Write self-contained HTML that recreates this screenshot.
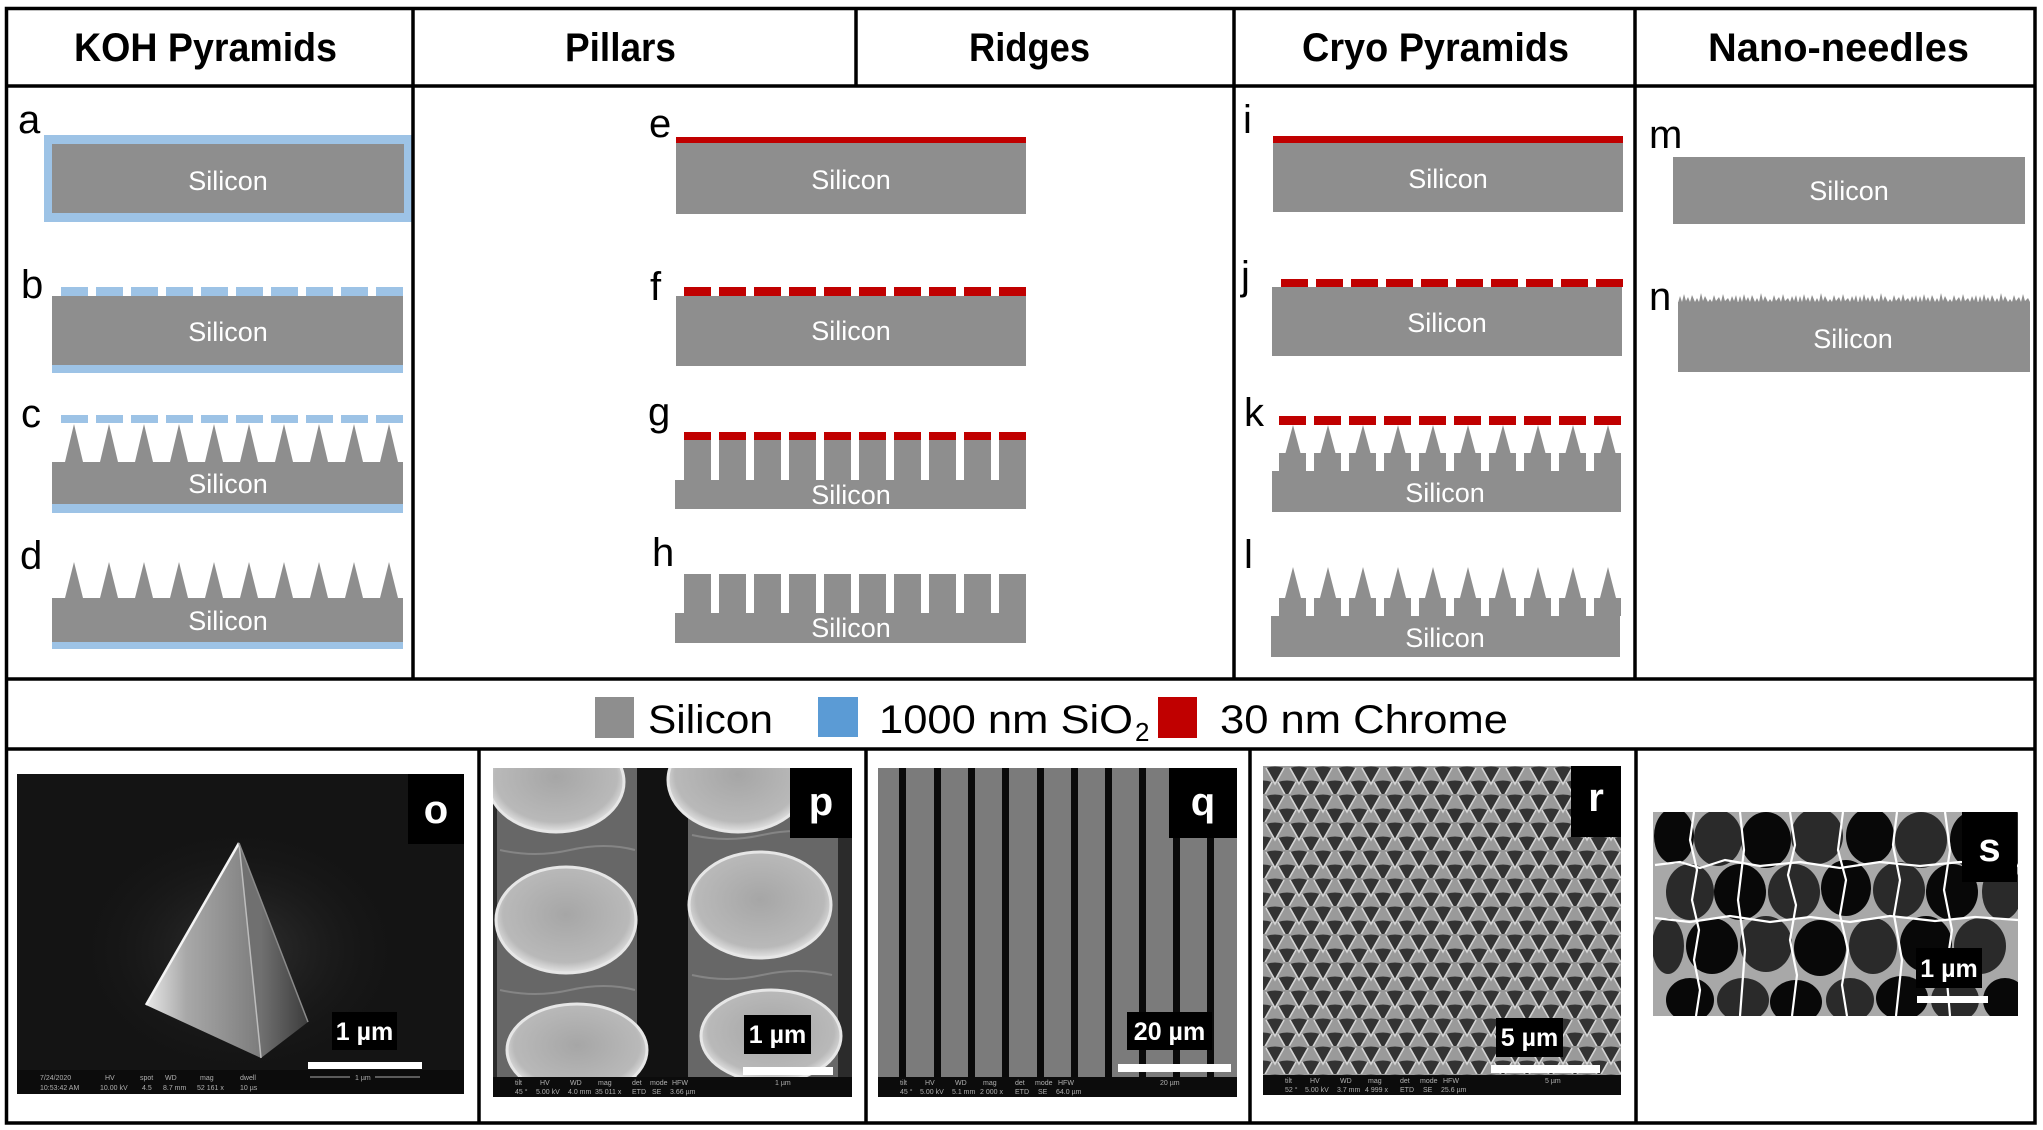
<!DOCTYPE html>
<html><head><meta charset="utf-8">
<style>
html,body{margin:0;padding:0;background:#fff;}
svg{display:block;}
text{font-family:"Liberation Sans",Arial,sans-serif;}
</style></head><body>
<svg width="2043" height="1130" viewBox="0 0 2043 1130" xmlns="http://www.w3.org/2000/svg">
<defs>
 <pattern id="pBlue" x="61" y="0" width="35" height="1200" patternUnits="userSpaceOnUse"><rect width="27" height="1200" fill="#9DC3E6"/></pattern>
 <pattern id="pRedF" x="684" y="0" width="35" height="1200" patternUnits="userSpaceOnUse"><rect width="27" height="1200" fill="#C00000"/></pattern>
 <pattern id="pGrayF" x="684" y="0" width="35" height="1200" patternUnits="userSpaceOnUse"><rect width="27" height="1200" fill="#8E8E8E"/></pattern>
 <pattern id="pRedJ" x="1281" y="0" width="35" height="1200" patternUnits="userSpaceOnUse"><rect width="27" height="1200" fill="#C00000"/></pattern>
 <pattern id="pRedK" x="1279" y="0" width="35" height="1200" patternUnits="userSpaceOnUse"><rect width="27" height="1200" fill="#C00000"/></pattern>
 <pattern id="pGrayK" x="1279" y="0" width="35" height="1200" patternUnits="userSpaceOnUse"><rect width="27" height="1200" fill="#8E8E8E"/></pattern>
 <pattern id="pj" x="1678" y="293" width="60" height="10" patternUnits="userSpaceOnUse"><polygon points="0,10 2,3 4,9 6,1 8,8 10,4 12,9 14,2 17,9 19,5 21,9 23,0 25,8 27,3 30,9 32,6 34,9 36,2 38,8 41,4 43,9 45,1 47,8 50,5 52,9 54,3 56,8 58,2 60,10" fill="#8E8E8E"/></pattern>
 <pattern id="pr" x="1263" y="766" width="24" height="28" patternUnits="userSpaceOnUse">
  <rect width="24" height="28" fill="#9a9a9a"/>
  <path d="M3 2 Q12 -1 21 2 L12 18 Z" fill="#333"/>
  <path d="M-9 16 Q0 13 9 16 L0 32 Z" fill="#333"/>
  <path d="M15 16 Q24 13 33 16 L24 32 Z" fill="#333"/>
  <path d="M3 2 L12 18 L21 2" fill="none" stroke="#d4d4d4" stroke-width="1.6"/>
  <path d="M-9 16 L0 32 L9 16 M15 16 L24 32 L33 16" fill="none" stroke="#d4d4d4" stroke-width="1.6"/>
 </pattern>
 <linearGradient id="gl" x1="146" y1="0" x2="261" y2="0" gradientUnits="userSpaceOnUse"><stop offset="0" stop-color="#e8e8e8"/><stop offset="0.35" stop-color="#a8a8a8"/><stop offset="1" stop-color="#7c7c7c"/></linearGradient>
 <linearGradient id="gr" x1="261" y1="0" x2="308" y2="0" gradientUnits="userSpaceOnUse"><stop offset="0" stop-color="#707070"/><stop offset="1" stop-color="#3c3c3c"/></linearGradient>
 <radialGradient id="gglow" cx="50%" cy="50%" r="50%"><stop offset="0" stop-color="#333"/><stop offset="1" stop-color="#141414" stop-opacity="0"/></radialGradient>
 <radialGradient id="gc" cx="50%" cy="45%" r="55%"><stop offset="0" stop-color="#a6a6a6"/><stop offset="0.82" stop-color="#b9b9b9"/><stop offset="1" stop-color="#e4e4e4"/></radialGradient>
 <clipPath id="cp"><rect x="493" y="768" width="359" height="309"/></clipPath>
 <clipPath id="cs"><rect x="1653" y="812" width="365" height="204"/></clipPath>
</defs>

<!-- header text -->
<g font-weight="bold" font-size="40" fill="#000">
 <text x="74" y="61" textLength="263" lengthAdjust="spacingAndGlyphs">KOH Pyramids</text>
 <text x="565" y="61" textLength="111" lengthAdjust="spacingAndGlyphs">Pillars</text>
 <text x="969" y="61" textLength="121" lengthAdjust="spacingAndGlyphs">Ridges</text>
 <text x="1302" y="61" textLength="267" lengthAdjust="spacingAndGlyphs">Cryo Pyramids</text>
 <text x="1708" y="61" textLength="261" lengthAdjust="spacingAndGlyphs">Nano-needles</text>
</g>

<!-- panel labels -->
<g font-size="40" fill="#000">
 <text x="18" y="133">a</text>
 <text x="21" y="298">b</text>
 <text x="21" y="427">c</text>
 <text x="20" y="569">d</text>
 <text x="649" y="137">e</text>
 <text x="650" y="300">f</text>
 <text x="648" y="425">g</text>
 <text x="652" y="566">h</text>
 <text x="1243" y="133">i</text>
 <text x="1241" y="289">j</text>
 <text x="1244" y="426">k</text>
 <text x="1244" y="568">l</text>
 <text x="1649" y="148">m</text>
 <text x="1649" y="310">n</text>
</g>

<!-- KOH column -->
<rect x="44" y="135" width="368" height="87" fill="#9DC3E6"/>
<rect x="52" y="144" width="352" height="69" fill="#8E8E8E"/>

<rect x="61" y="287" width="342" height="9" fill="url(#pBlue)"/>
<rect x="52" y="296" width="351" height="69" fill="#8E8E8E"/>
<rect x="52" y="365" width="351" height="8" fill="#9DC3E6"/>

<rect x="61" y="415" width="342" height="8" fill="url(#pBlue)"/>
<path fill="#8E8E8E" d="M65 462l9-38 9 38z m35 0l9-38 9 38z m35 0l9-38 9 38z m35 0l9-38 9 38z m35 0l9-38 9 38z m35 0l9-38 9 38z m35 0l9-38 9 38z m35 0l9-38 9 38z m35 0l9-38 9 38z m35 0l9-38 9 38z"/>
<rect x="52" y="462" width="351" height="42" fill="#8E8E8E"/>
<rect x="52" y="504" width="351" height="9" fill="#9DC3E6"/>

<path fill="#8E8E8E" d="M65 598l9-36 9 36z m35 0l9-36 9 36z m35 0l9-36 9 36z m35 0l9-36 9 36z m35 0l9-36 9 36z m35 0l9-36 9 36z m35 0l9-36 9 36z m35 0l9-36 9 36z m35 0l9-36 9 36z m35 0l9-36 9 36z"/>
<rect x="52" y="598" width="351" height="44" fill="#8E8E8E"/>
<rect x="52" y="642" width="351" height="7" fill="#9DC3E6"/>

<!-- Pillars / Ridges -->
<rect x="676" y="137" width="350" height="6" fill="#C00000"/>
<rect x="676" y="143" width="350" height="71" fill="#8E8E8E"/>

<rect x="684" y="287" width="342" height="9" fill="url(#pRedF)"/>
<rect x="676" y="296" width="350" height="70" fill="#8E8E8E"/>

<rect x="684" y="432" width="342" height="8" fill="url(#pRedF)"/>
<rect x="684" y="440" width="342" height="40" fill="url(#pGrayF)"/>
<rect x="675" y="480" width="351" height="29" fill="#8E8E8E"/>

<rect x="684" y="574" width="342" height="39" fill="url(#pGrayF)"/>
<rect x="675" y="613" width="351" height="30" fill="#8E8E8E"/>

<!-- Cryo -->
<rect x="1273" y="136" width="350" height="7" fill="#C00000"/>
<rect x="1273" y="143" width="350" height="69" fill="#8E8E8E"/>

<rect x="1281" y="279" width="342" height="8" fill="url(#pRedJ)"/>
<rect x="1272" y="287" width="350" height="69" fill="#8E8E8E"/>

<rect x="1279" y="416" width="342" height="9" fill="url(#pRedK)"/>
<path fill="#8E8E8E" d="M1285.5 453l7.5-28 7.5 28z m35 0l7.5-28 7.5 28z m35 0l7.5-28 7.5 28z m35 0l7.5-28 7.5 28z m35 0l7.5-28 7.5 28z m35 0l7.5-28 7.5 28z m35 0l7.5-28 7.5 28z m35 0l7.5-28 7.5 28z m35 0l7.5-28 7.5 28z m35 0l7.5-28 7.5 28z"/>
<rect x="1279" y="453" width="342" height="18" fill="url(#pGrayK)"/>
<rect x="1272" y="471" width="349" height="41" fill="#8E8E8E"/>

<path fill="#8E8E8E" d="M1285 598l8-31 8 31z m35 0l8-31 8 31z m35 0l8-31 8 31z m35 0l8-31 8 31z m35 0l8-31 8 31z m35 0l8-31 8 31z m35 0l8-31 8 31z m35 0l8-31 8 31z m35 0l8-31 8 31z m35 0l8-31 8 31z"/>
<rect x="1279" y="598" width="342" height="18" fill="url(#pGrayK)"/>
<rect x="1271" y="616" width="349" height="41" fill="#8E8E8E"/>

<!-- Nano-needles -->
<rect x="1673" y="157" width="352" height="67" fill="#8E8E8E"/>
<rect x="1678" y="293" width="352" height="10" fill="url(#pj)"/>
<rect x="1678" y="302" width="352" height="70" fill="#8E8E8E"/>

<!-- Silicon labels -->
<g font-size="27" fill="#fff" text-anchor="middle">
 <text x="228" y="190">Silicon</text>
 <text x="228" y="341">Silicon</text>
 <text x="228" y="493">Silicon</text>
 <text x="228" y="630">Silicon</text>
 <text x="851" y="189">Silicon</text>
 <text x="851" y="340">Silicon</text>
 <text x="851" y="504">Silicon</text>
 <text x="851" y="637">Silicon</text>
 <text x="1448" y="188">Silicon</text>
 <text x="1447" y="332">Silicon</text>
 <text x="1445" y="502">Silicon</text>
 <text x="1445" y="647">Silicon</text>
 <text x="1849" y="200">Silicon</text>
 <text x="1853" y="348">Silicon</text>
</g>

<!-- Legend -->
<rect x="595" y="697" width="39" height="41" fill="#8E8E8E"/>
<text x="648" y="733" font-size="40" textLength="125" lengthAdjust="spacingAndGlyphs">Silicon</text>
<rect x="818" y="697" width="40" height="40" fill="#5B9BD5"/>
<text x="879" y="733" font-size="40" textLength="254" lengthAdjust="spacingAndGlyphs">1000 nm SiO</text>
<text x="1135" y="741" font-size="26">2</text>
<rect x="1158" y="697" width="39" height="41" fill="#C00000"/>
<text x="1220" y="733" font-size="40" textLength="288" lengthAdjust="spacingAndGlyphs">30 nm Chrome</text>

<!-- SEM o -->
<rect x="17" y="774" width="447" height="296" fill="#141414"/>
<ellipse cx="240" cy="950" rx="170" ry="130" fill="url(#gglow)"/>
<polygon points="239,843 146,1005 261,1058" fill="url(#gl)"/>
<polygon points="239,843 261,1058 308,1022" fill="url(#gr)"/>
<line x1="239" y1="843" x2="146" y2="1005" stroke="#f4f4f4" stroke-width="2.5"/>
<line x1="239" y1="843" x2="261" y2="1058" stroke="#bdbdbd" stroke-width="1.5"/>
<line x1="239" y1="843" x2="308" y2="1022" stroke="#8a8a8a" stroke-width="1.5"/>
<rect x="408" y="774" width="56" height="70" fill="#000"/>
<text x="436" y="823" font-size="40" font-weight="bold" fill="#fff" text-anchor="middle">o</text>
<rect x="332" y="1012" width="65" height="38" fill="#000"/>
<text x="364.5" y="1040" font-size="25" font-weight="bold" fill="#fff" text-anchor="middle">1 µm</text>
<rect x="308" y="1062" width="114" height="7" fill="#fff"/>
<rect x="17" y="1070" width="447" height="24" fill="#0c0c0c"/>
<g fill="#b0b0b0" font-size="7">
 <text x="40" y="1080">7/24/2020</text><text x="40" y="1090">10:53:42 AM</text>
 <text x="105" y="1080">HV</text><text x="100" y="1090">10.00 kV</text>
 <text x="140" y="1080">spot</text><text x="142" y="1090">4.5</text>
 <text x="165" y="1080">WD</text><text x="163" y="1090">8.7 mm</text>
 <text x="200" y="1080">mag</text><text x="197" y="1090">52 161 x</text>
 <text x="240" y="1080">dwell</text><text x="240" y="1090">10 µs</text>
 <text x="355" y="1080">1 µm</text>
</g>
<line x1="310" y1="1077" x2="350" y2="1077" stroke="#aaa" stroke-width="1"/>
<line x1="375" y1="1077" x2="420" y2="1077" stroke="#aaa" stroke-width="1"/>

<!-- SEM p -->
<g clip-path="url(#cp)">
 <rect x="493" y="768" width="359" height="309" fill="#2b2b2b"/>
 <rect x="497" y="768" width="140" height="309" fill="#676767"/>
 <rect x="688" y="768" width="150" height="309" fill="#676767"/>
 <rect x="637" y="768" width="51" height="309" fill="#121212"/>
 <g fill="none" stroke="#858585" stroke-width="2">
  <path d="M500 850 q35 8 70 0 t65 0"/><path d="M500 990 q35 8 70 0 t65 0"/>
  <path d="M692 835 q35 8 70 0 t70 0"/><path d="M692 975 q35 8 70 0 t70 0"/>
 </g>
 <g fill="url(#gc)" stroke="#e6e6e6" stroke-width="3">
  <ellipse cx="556" cy="782" rx="68" ry="50"/>
  <ellipse cx="738" cy="780" rx="70" ry="52"/>
  <ellipse cx="566" cy="920" rx="70" ry="53"/>
  <ellipse cx="760" cy="905" rx="71" ry="53"/>
  <ellipse cx="577" cy="1050" rx="70" ry="46"/>
  <ellipse cx="771" cy="1036" rx="70" ry="46"/>
 </g>
</g>
<rect x="790" y="768" width="62" height="70" fill="#000"/>
<text x="821" y="815" font-size="40" font-weight="bold" fill="#fff" text-anchor="middle">p</text>
<rect x="744" y="1015" width="67" height="39" fill="#000"/>
<text x="777.5" y="1043" font-size="25" font-weight="bold" fill="#fff" text-anchor="middle">1 µm</text>
<rect x="743" y="1067" width="90" height="8" fill="#fff"/>
<rect x="493" y="1077" width="359" height="20" fill="#0c0c0c"/>
<g fill="#b0b0b0" font-size="7">
 <text x="515" y="1085">tilt</text><text x="515" y="1094">45 °</text>
 <text x="540" y="1085">HV</text><text x="536" y="1094">5.00 kV</text>
 <text x="570" y="1085">WD</text><text x="568" y="1094">4.0 mm</text>
 <text x="598" y="1085">mag</text><text x="595" y="1094">35 011 x</text>
 <text x="632" y="1085">det</text><text x="632" y="1094">ETD</text>
 <text x="650" y="1085">mode</text><text x="652" y="1094">SE</text>
 <text x="672" y="1085">HFW</text><text x="670" y="1094">3.66 µm</text>
 <text x="775" y="1085">1 µm</text>
</g>

<!-- SEM q -->
<rect x="878" y="768" width="359" height="309" fill="#7b7b7b"/>
<g fill="#0a0a0a">
 <rect x="899" y="768" width="7" height="309"/><rect x="934" y="768" width="7" height="309"/>
 <rect x="968" y="768" width="7" height="309"/><rect x="1002" y="768" width="7" height="309"/>
 <rect x="1037" y="768" width="7" height="309"/><rect x="1071" y="768" width="7" height="309"/>
 <rect x="1105" y="768" width="7" height="309"/><rect x="1139" y="768" width="7" height="309"/>
 <rect x="1173" y="768" width="7" height="309"/><rect x="1207" y="768" width="7" height="309"/>
</g>
<rect x="1169" y="768" width="68" height="70" fill="#000"/>
<text x="1203" y="815" font-size="40" font-weight="bold" fill="#fff" text-anchor="middle">q</text>
<rect x="1127" y="1012" width="85" height="38" fill="#000"/>
<text x="1169.5" y="1040" font-size="25" font-weight="bold" fill="#fff" text-anchor="middle">20 µm</text>
<rect x="1118" y="1064" width="113" height="8" fill="#fff"/>
<rect x="878" y="1077" width="359" height="20" fill="#0c0c0c"/>
<g fill="#b0b0b0" font-size="7">
 <text x="900" y="1085">tilt</text><text x="900" y="1094">45 °</text>
 <text x="925" y="1085">HV</text><text x="920" y="1094">5.00 kV</text>
 <text x="955" y="1085">WD</text><text x="952" y="1094">5.1 mm</text>
 <text x="983" y="1085">mag</text><text x="980" y="1094">2 000 x</text>
 <text x="1015" y="1085">det</text><text x="1015" y="1094">ETD</text>
 <text x="1035" y="1085">mode</text><text x="1038" y="1094">SE</text>
 <text x="1058" y="1085">HFW</text><text x="1056" y="1094">64.0 µm</text>
 <text x="1160" y="1085">20 µm</text>
</g>

<!-- SEM r -->
<rect x="1263" y="766" width="358" height="309" fill="url(#pr)"/>
<rect x="1571" y="766" width="50" height="71" fill="#000"/>
<text x="1596" y="811" font-size="40" font-weight="bold" fill="#fff" text-anchor="middle">r</text>
<rect x="1496" y="1018" width="67" height="39" fill="#000"/>
<text x="1529.5" y="1046" font-size="25" font-weight="bold" fill="#fff" text-anchor="middle">5 µm</text>
<rect x="1491" y="1065" width="109" height="8" fill="#fff"/>
<rect x="1263" y="1075" width="358" height="20" fill="#0c0c0c"/>
<g fill="#b0b0b0" font-size="7">
 <text x="1285" y="1083">tilt</text><text x="1285" y="1092">52 °</text>
 <text x="1310" y="1083">HV</text><text x="1305" y="1092">5.00 kV</text>
 <text x="1340" y="1083">WD</text><text x="1337" y="1092">3.7 mm</text>
 <text x="1368" y="1083">mag</text><text x="1365" y="1092">4 999 x</text>
 <text x="1400" y="1083">det</text><text x="1400" y="1092">ETD</text>
 <text x="1420" y="1083">mode</text><text x="1423" y="1092">SE</text>
 <text x="1443" y="1083">HFW</text><text x="1441" y="1092">25.6 µm</text>
 <text x="1545" y="1083">5 µm</text>
</g>

<!-- SEM s -->
<g clip-path="url(#cs)">
 <rect x="1653" y="812" width="365" height="204" fill="#a8a8a8"/>
 <g fill="#080808">
  <ellipse cx="1674" cy="836" rx="20" ry="28"/><ellipse cx="1766" cy="840" rx="25" ry="28"/>
  <ellipse cx="1870" cy="836" rx="24" ry="28"/><ellipse cx="1972" cy="840" rx="22" ry="28"/>
  <ellipse cx="1740" cy="892" rx="26" ry="28"/><ellipse cx="1846" cy="888" rx="25" ry="28"/>
  <ellipse cx="1952" cy="892" rx="26" ry="28"/>
  <ellipse cx="1712" cy="946" rx="26" ry="28"/><ellipse cx="1820" cy="948" rx="26" ry="28"/>
  <ellipse cx="1926" cy="944" rx="26" ry="28"/>
  <ellipse cx="1690" cy="1000" rx="24" ry="22"/><ellipse cx="1796" cy="1002" rx="26" ry="22"/>
  <ellipse cx="1902" cy="998" rx="26" ry="22"/><ellipse cx="2005" cy="1000" rx="22" ry="22"/>
 </g>
 <g fill="#2a2a2a">
  <ellipse cx="1718" cy="838" rx="24" ry="28"/><ellipse cx="1817" cy="836" rx="26" ry="28"/>
  <ellipse cx="1921" cy="840" rx="26" ry="28"/><ellipse cx="2012" cy="838" rx="14" ry="28"/>
  <ellipse cx="1690" cy="892" rx="24" ry="28"/><ellipse cx="1794" cy="892" rx="26" ry="28"/>
  <ellipse cx="1899" cy="890" rx="26" ry="28"/><ellipse cx="2002" cy="892" rx="20" ry="28"/>
  <ellipse cx="1668" cy="946" rx="16" ry="28"/><ellipse cx="1766" cy="944" rx="26" ry="28"/>
  <ellipse cx="1873" cy="946" rx="24" ry="28"/><ellipse cx="1980" cy="946" rx="26" ry="28"/>
  <ellipse cx="1743" cy="1000" rx="26" ry="22"/><ellipse cx="1850" cy="1000" rx="24" ry="22"/>
  <ellipse cx="1955" cy="1000" rx="24" ry="22"/>
 </g>
 <g fill="none" stroke="#fff" stroke-width="2.2">
  <polyline points="1694,812 1690,840 1697,870 1692,900 1699,930 1694,960 1700,990 1696,1016"/>
  <polyline points="1790,812 1795,845 1788,875 1796,905 1790,940 1797,975 1792,1016"/>
  <polyline points="1843,812 1838,850 1846,880 1840,915 1848,950 1842,985 1847,1016"/>
  <polyline points="1897,812 1893,845 1900,880 1894,915 1902,960 1896,1016"/>
  <polyline points="1945,812 1950,850 1944,890 1952,930 1946,970 1950,1016"/>
  <polyline points="1740,812 1744,850 1738,900 1745,950 1740,1016"/>
  <polyline points="1655,865 1680,862 1700,868 1725,860 1760,866 1800,862 1840,868 1880,862 1920,866 1960,862 2018,866"/>
  <polyline points="1655,918 1690,922 1730,916 1770,922 1810,917 1850,922 1890,916 1935,921 1975,917 2018,920"/>
 </g>
</g>
<rect x="1962" y="812" width="55" height="70" fill="#000"/>
<text x="1989.5" y="861" font-size="40" font-weight="bold" fill="#fff" text-anchor="middle">s</text>
<rect x="1916" y="948" width="66" height="40" fill="#000"/>
<text x="1949" y="977" font-size="25" font-weight="bold" fill="#fff" text-anchor="middle">1 µm</text>
<rect x="1917" y="996" width="71" height="7" fill="#fff"/>

<!-- table lines -->
<g stroke="#000" stroke-width="3.5" fill="none">
 <rect x="6.5" y="8.5" width="2028.5" height="1114.5"/>
 <line x1="6" y1="86" x2="2036" y2="86"/>
 <line x1="6" y1="679" x2="2036" y2="679"/>
 <line x1="6" y1="749" x2="2036" y2="749"/>
 <line x1="413" y1="8" x2="413" y2="679"/>
 <line x1="856" y1="8" x2="856" y2="86"/>
 <line x1="1234" y1="8" x2="1234" y2="679"/>
 <line x1="1635" y1="8" x2="1635" y2="679"/>
 <line x1="479" y1="749" x2="479" y2="1123"/>
 <line x1="866" y1="749" x2="866" y2="1123"/>
 <line x1="1250" y1="749" x2="1250" y2="1123"/>
 <line x1="1636" y1="749" x2="1636" y2="1123"/>
</g>
</svg>
</body></html>
